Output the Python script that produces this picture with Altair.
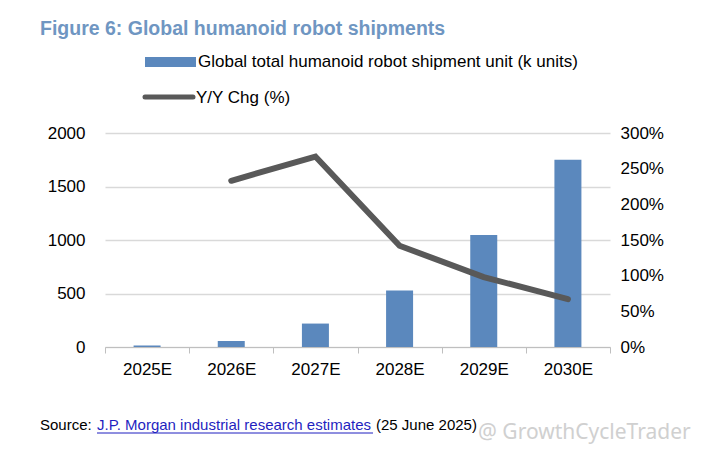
import altair as alt
import pandas as pd

years = ["2025E", "2026E", "2027E", "2028E", "2029E", "2030E"]
shipments = [15, 56, 219, 528, 1047, 1750]
yoy_pct = [None, 233, 267, 142, 98, 67]

FONT = "Liberation Sans, Arial, sans-serif"
BAR = "#5B88BD"
LINE = "#595959"

df = pd.DataFrame({
    "year": years,
    "shipments": shipments,
    "yoy": [None if v is None else v / 100 for v in yoy_pct],
})

base = alt.Chart(df)

xenc = alt.X(
    "year:N",
    sort=years,
    scale=alt.Scale(paddingInner=0, paddingOuter=0),
    axis=alt.Axis(
        title=None, labelAngle=0, tickBand="extent", domainColor="#bfbfbf",
        tickColor="#bfbfbf", tickSize=6, labelFontSize=17, labelColor="#000000",
        labelPadding=8, labelFont=FONT,
    ),
)

bars = base.mark_bar(color=BAR, width=27).encode(
    x=xenc,
    y=alt.Y(
        "shipments:Q",
        scale=alt.Scale(domain=[0, 2000], nice=False),
        axis=alt.Axis(
            title=None, values=[0, 500, 1000, 1500, 2000], format="d", grid=True,
            gridColor="#d9d9d9", gridWidth=1.5, domain=False, ticks=False,
            labelFontSize=17, labelColor="#000000", labelPadding=20, labelFont=FONT,
        ),
    ),
)

line = base.transform_filter("datum.yoy != null").mark_line(
    color=LINE, strokeWidth=6, strokeCap="round", strokeJoin="miter"
).encode(
    x=alt.X("year:N", sort=years),
    y=alt.Y(
        "yoy:Q",
        scale=alt.Scale(domain=[0, 3], nice=False),
        axis=alt.Axis(
            title=None, orient="right", values=[0, 0.5, 1, 1.5, 2, 2.5, 3],
            format=".0%", grid=False, domain=False, ticks=False,
            labelFontSize=17, labelColor="#000000", labelPadding=10, labelFont=FONT,
        ),
    ),
)

one = pd.DataFrame({"k": [0]})
ann = alt.Chart(one)

title = ann.mark_text(
    text="Figure 6: Global humanoid robot shipments", align="left", baseline="middle",
    font=FONT, fontSize=19.5, fontWeight="bold", color="#6F96C2",
).encode(x=alt.value(-65), y=alt.value(-104))

leg_bar = ann.mark_rect(color=BAR).encode(
    x=alt.value(40), x2=alt.value(91), y=alt.value(-76), y2=alt.value(-66)
)
leg_bar_txt = ann.mark_text(
    text="Global total humanoid robot shipment unit (k units)", align="left",
    baseline="middle", font=FONT, fontSize=17, color="#000000",
).encode(x=alt.value(93), y=alt.value(-71))

leg_line = ann.mark_rule(color=LINE, strokeWidth=5, strokeCap="round").encode(
    x=alt.value(40), x2=alt.value(88), y=alt.value(-36)
)
leg_line_txt = ann.mark_text(
    text="Y/Y Chg (%)", align="left", baseline="middle", font=FONT,
    fontSize=17, color="#000000",
).encode(x=alt.value(91), y=alt.value(-35))

src1 = ann.mark_text(
    text="Source:", align="left", baseline="middle", font=FONT, fontSize=15,
    color="#000000",
).encode(x=alt.value(-65), y=alt.value(292))
src2 = ann.mark_text(
    text="J.P. Morgan industrial research estimates", align="left",
    baseline="middle", font=FONT, fontSize=15, color="#1F1FC0",
).encode(x=alt.value(-8), y=alt.value(292))
src_ul = ann.mark_rule(color="#1F1FC0", strokeWidth=1).encode(
    x=alt.value(-8), x2=alt.value(268), y=alt.value(300)
)
src3 = ann.mark_text(
    text="(25 June 2025)", align="left", baseline="middle", font=FONT,
    fontSize=15, color="#000000",
).encode(x=alt.value(271), y=alt.value(292))
wm = ann.mark_text(
    text="@ GrowthCycleTrader", align="left", baseline="middle",
    font="Noto Sans, DejaVu Sans, sans-serif", fontSize=21, color="#c8c8c8",
    opacity=0.85,
).encode(x=alt.value(373), y=alt.value(300))

chart = alt.layer(
    bars, line, title, leg_bar, leg_bar_txt, leg_line, leg_line_txt,
    src1, src2, src_ul, src3, wm,
).resolve_scale(y="independent").properties(
    width=505, height=214,
    autosize=alt.AutoSizeParams(type="none"),
    padding={"left": 97, "top": 125, "right": 90, "bottom": 100},
    background="#ffffff",
).configure_view(stroke=None)

chart.save("out.html", embed_options={"renderer": "svg", "actions": False})
